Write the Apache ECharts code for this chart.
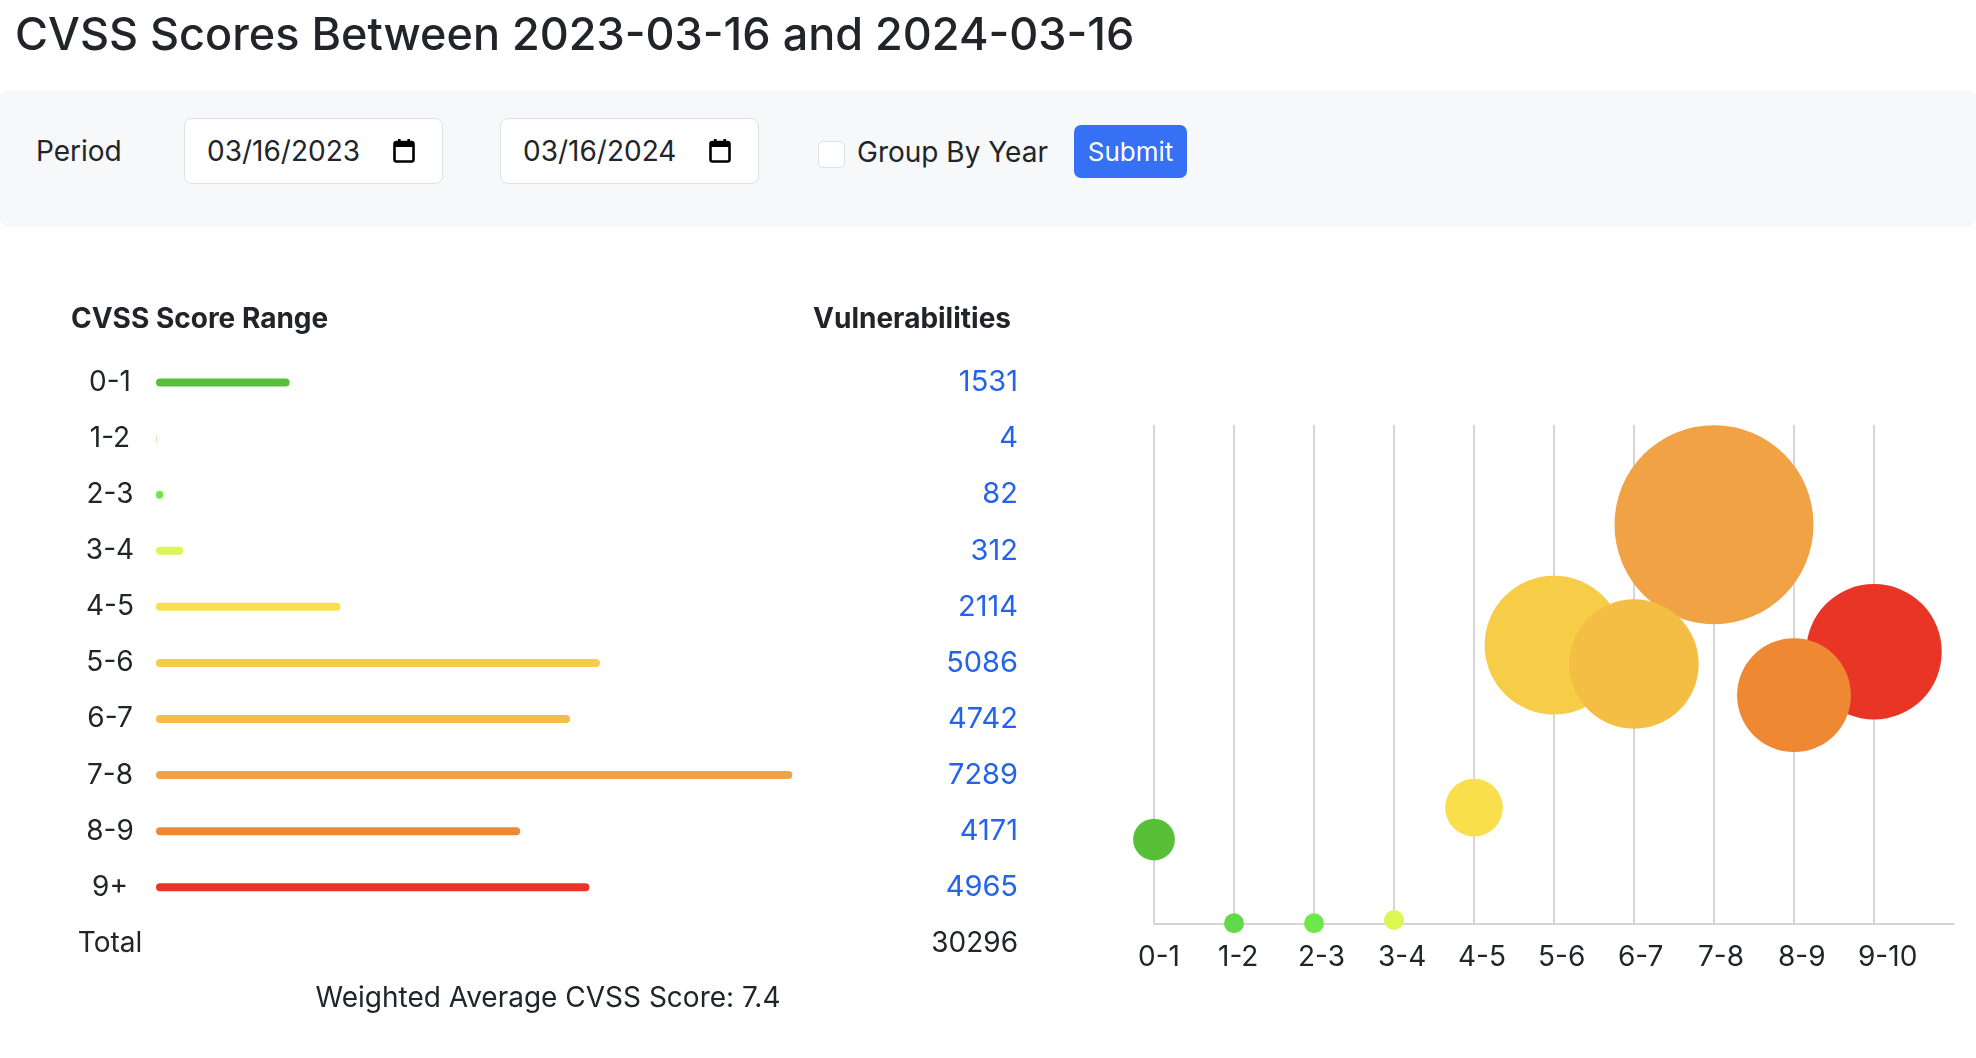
<!DOCTYPE html>
<html><head><meta charset="utf-8">
<script src="https://cdn.jsdelivr.net/npm/echarts/dist/echarts.min.js"></script>
<style>
html,body{margin:0;padding:0;background:#fff;width:1976px;height:1058px;overflow:hidden;font-family:Inter,'Noto Sans',sans-serif;color:#212529;}
.abs{position:absolute;white-space:nowrap;}
#chart{position:absolute;left:0;top:0;width:1976px;height:1058px;}
#title{left:15px;top:11px;font-size:45px;line-height:45px;font-weight:500;}
#panel{left:0;top:90px;width:1976px;height:137px;background:#f7f8f9;border-radius:9px;}
.txt{font-size:28px;line-height:28px;}
.inp{background:#fff;border:1.5px solid #dee2e6;border-radius:8px;box-sizing:border-box;height:66px;width:259px;top:118px;}
.cb{left:818px;top:141px;width:27px;height:27px;background:#fff;border:1.5px solid #dee2e6;border-radius:5px;box-sizing:border-box;}
#submit{left:1074px;top:125px;width:113px;height:53px;background:#3670f4;border-radius:7px;color:#fff;font-size:26px;line-height:53px;text-align:center;}
</style></head>
<body>
<div id="chart"></div>
<div class="abs" id="title">CVSS Scores Between 2023-03-16 and 2024-03-16</div>
<div class="abs" id="panel"></div>
<div class="abs txt" style="left:36px;top:137px;">Period</div>
<div class="abs inp" style="left:184px;"></div>
<div class="abs txt" style="left:207px;top:137px;">03/16/2023</div>
<svg class="abs" style="left:393px;top:138px;" width="22" height="25" viewBox="0 0 22 25"><rect x="1.5" y="4" width="19" height="19.5" rx="2" fill="none" stroke="#000" stroke-width="2.6"/><rect x="1.5" y="4" width="19" height="5" fill="#000"/><rect x="5" y="1" width="2.6" height="5" fill="#000"/><rect x="14.4" y="1" width="2.6" height="5" fill="#000"/></svg>
<div class="abs inp" style="left:500px;"></div>
<div class="abs txt" style="left:523px;top:137px;">03/16/2024</div>
<svg class="abs" style="left:709px;top:138px;" width="22" height="25" viewBox="0 0 22 25"><rect x="1.5" y="4" width="19" height="19.5" rx="2" fill="none" stroke="#000" stroke-width="2.6"/><rect x="1.5" y="4" width="19" height="5" fill="#000"/><rect x="5" y="1" width="2.6" height="5" fill="#000"/><rect x="14.4" y="1" width="2.6" height="5" fill="#000"/></svg>
<div class="abs cb"></div>
<div class="abs txt" style="left:857px;top:138px;">Group By Year</div>
<div class="abs" id="submit">Submit</div>
<script>
// ---- data ----
const rangeLabels = ['0-1','1-2','2-3','3-4','4-5','5-6','6-7','7-8','8-9','9+'];
const bubbleLabels = ['0-1','1-2','2-3','3-4','4-5','5-6','6-7','7-8','8-9','9-10'];
const counts = [1531, 4, 82, 312, 2114, 5086, 4742, 7289, 4171, 4965];
const bubbleY = [1531, 0, 0, 60, 2114, 5086, 4742, 7289, 4171, 4965];
const totalLabel = 'Total';
const totalCount = 30296;
const weightedAverage = 7.4;
const colors = ['#57c038','#62d94a','#6de84a','#dcf751','#f9df4b','#f7cc47','#f4be45','#f0a245','#ee8833','#e83526'];

const dark = '#212529';
const blue = '#2563eb';
const grey = '#c8c8c8';

const rowCats = rangeLabels.concat([totalLabel]);
const barData = counts.map((c, i) => ({value: c, itemStyle: {color: colors[i]}}));
barData.push(null);

const order = counts.map((c, i) => i).sort((a, b) => counts[b] - counts[a]);
const bubbleData = order.map(i => ({value: [i, bubbleY[i], counts[i]], itemStyle: {color: colors[i]}}));

const chart = echarts.init(document.getElementById('chart'), null, {renderer: 'canvas'});
chart.setOption({
  animation: false,
  backgroundColor: 'transparent',
  textStyle: {fontFamily: 'Inter'},
  grid: [
    {left: 156, right: 958, top: 354.5, bottom: 86.6, containLabel: false},
    {left: 1154, right: 22, top: 425, bottom: 134.7, containLabel: false}
  ],
  xAxis: [
    {gridIndex: 0, type: 'value', min: 0, max: 9874, show: false},
    {gridIndex: 1, type: 'value', min: 0, max: 10, interval: 1,
      axisLine: {show: true, lineStyle: {color: grey, width: 1.5}},
      axisTick: {show: false},
      splitLine: {show: true, showMaxLine: false, lineStyle: {color: grey, width: 1.5}},
      axisLabel: {show: true, margin: 20.5, align: 'left', padding: [0, 0, 0, -16],
        fontSize: 28, color: dark, fontFamily: 'Inter',
        formatter: v => (v < bubbleLabels.length ? bubbleLabels[v] : '')}
    }
  ],
  yAxis: [
    {gridIndex: 0, type: 'category', inverse: true, data: rowCats, position: 'left',
      axisLine: {show: false}, axisTick: {show: false}, splitLine: {show: false},
      axisLabel: {interval: 0, margin: 46, align: 'center', fontSize: 28, color: dark, fontFamily: 'Inter'}
    },
    {gridIndex: 0, type: 'category', inverse: true, data: rowCats, position: 'right',
      axisLine: {show: false}, axisTick: {show: false}, splitLine: {show: false},
      axisLabel: {interval: 0, margin: 0, align: 'right', fontSize: 28, fontFamily: 'Inter',
        formatter: (v, i) => (i < counts.length ? '{b|' + counts[i] + '}' : '{k|' + totalCount + '}'),
        rich: {b: {color: blue, fontSize: 29, fontFamily: 'Inter'}, k: {color: dark, fontSize: 28, fontFamily: 'Inter'}}
      }
    },
    {gridIndex: 1, type: 'value', min: 0, max: 9111, show: false}
  ],
  series: [
    {type: 'bar', xAxisIndex: 0, yAxisIndex: 0, data: barData, barWidth: 8,
      itemStyle: {borderRadius: 4}, silent: true},
    {type: 'scatter', xAxisIndex: 1, yAxisIndex: 2, data: bubbleData, clip: false,
      itemStyle: {opacity: 1},
      symbolSize: val => Math.max(val[2] * 0.0273, 20), silent: true}
  ],
  graphic: [
    {type: 'text', left: 71, top: 306, style: {text: 'CVSS Score Range', font: 'bold 28px Inter', fill: dark}},
    {type: 'text', right: 1976 - 1011, top: 306, style: {text: 'Vulnerabilities', font: 'bold 28px Inter', fill: dark}},
    {type: 'text', x: 548, y: 998.5, style: {text: 'Weighted Average CVSS Score: ' + weightedAverage, font: '28px Inter', fill: dark, align: 'center', verticalAlign: 'middle'}}
  ]
});
</script>
</body></html>
